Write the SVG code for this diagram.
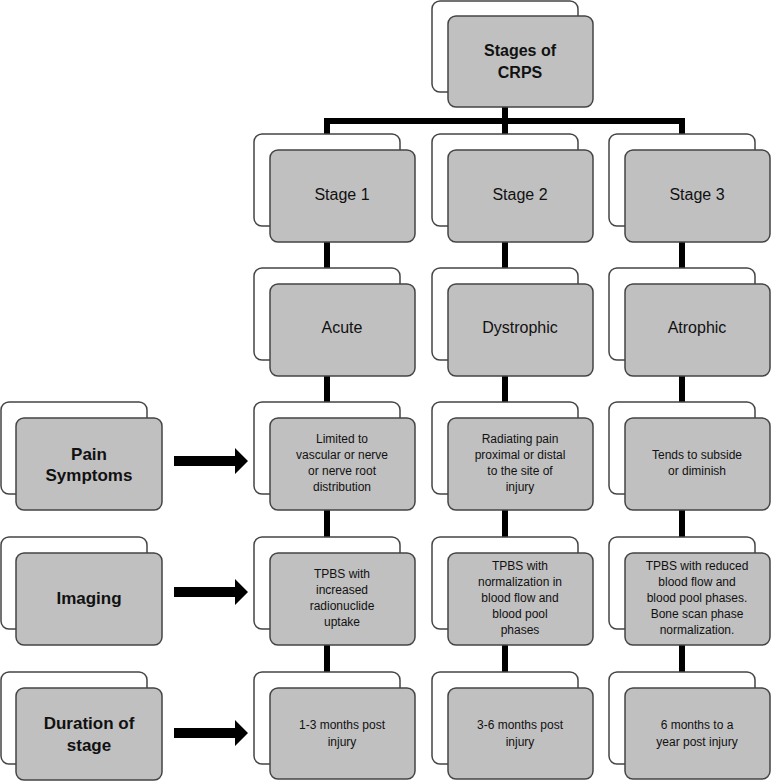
<svg xmlns="http://www.w3.org/2000/svg" width="771" height="781" viewBox="0 0 771 781">
<style>
.b{fill:#fff;stroke:#444;stroke-width:1.5}
.f{fill:#c0c0c0;stroke:#444;stroke-width:1.5}
text{font-family:"Liberation Sans",Arial,sans-serif;fill:#111;text-anchor:middle}
.h{font-size:16px;font-weight:bold}
.s{font-size:16px}
.t{font-size:12px}
.l{font-size:17px;font-weight:bold}
.c{stroke:#000;stroke-width:6;fill:none}
</style>
<rect width="771" height="781" fill="#fff"/>
<g id="connectors">
<path class="c" d="M505 107V121M326 121H684M327 118V150M505 118V150M682 118V150"/>
<path class="c" d="M327 242V284M505 242V284M682 242V284M327 376V418M505 376V418M682 376V418M327 510V553M505 510V553M682 510V553M327 645V688M505 645V688M682 645V688"/>
<path d="M174 456H235V448L248 461L235 474V466H174Z M174 587H235V579L248 592L235 605V597H174Z M174 728H235V720L248 733L235 746V738H174Z" fill="#000"/>
</g>
<g id="root"><rect class="b" x="432" y="1" width="146" height="91" rx="8"/><rect class="f" x="448" y="16" width="145" height="91" rx="8"/><text class="h" x="520" y="56">Stages of</text><text class="h" x="520" y="78">CRPS</text></g>
<g id="stage1"><rect class="b" x="254" y="134" width="146" height="92" rx="8"/><rect class="f" x="270" y="150" width="145" height="92" rx="8"/><text class="s" x="342" y="200">Stage 1</text></g>
<g id="stage2"><rect class="b" x="432" y="134" width="146" height="92" rx="8"/><rect class="f" x="448" y="150" width="145" height="92" rx="8"/><text class="s" x="520" y="200">Stage 2</text></g>
<g id="stage3"><rect class="b" x="609" y="134" width="146" height="92" rx="8"/><rect class="f" x="625" y="150" width="145" height="92" rx="8"/><text class="s" x="697" y="200">Stage 3</text></g>
<g id="acute"><rect class="b" x="254" y="268" width="146" height="92" rx="8"/><rect class="f" x="270" y="284" width="145" height="92" rx="8"/><text class="s" x="342" y="333">Acute</text></g>
<g id="dystrophic"><rect class="b" x="432" y="268" width="146" height="92" rx="8"/><rect class="f" x="448" y="284" width="145" height="92" rx="8"/><text class="s" x="520" y="333">Dystrophic</text></g>
<g id="atrophic"><rect class="b" x="609" y="268" width="146" height="92" rx="8"/><rect class="f" x="625" y="284" width="145" height="92" rx="8"/><text class="s" x="697" y="333">Atrophic</text></g>
<g id="pain"><rect class="b" x="1" y="402" width="146" height="92" rx="8"/><rect class="f" x="16" y="418" width="146" height="92" rx="8"/><text class="l" x="89" y="460">Pain</text><text class="l" x="89" y="481">Symptoms</text></g>
<g id="imaging"><rect class="b" x="1" y="537" width="146" height="92" rx="8"/><rect class="f" x="16" y="553" width="146" height="92" rx="8"/><text class="l" x="89" y="604">Imaging</text></g>
<g id="duration"><rect class="b" x="1" y="672" width="146" height="92" rx="8"/><rect class="f" x="16" y="688" width="146" height="92" rx="8"/><text class="l" x="89" y="729">Duration of</text><text class="l" x="89" y="751">stage</text></g>
<g id="pain1"><rect class="b" x="254" y="402" width="146" height="92" rx="8"/><rect class="f" x="270" y="418" width="145" height="92" rx="8"/><text class="t" x="342" y="443">Limited to</text><text class="t" x="342" y="459">vascular or nerve</text><text class="t" x="342" y="475">or nerve root</text><text class="t" x="342" y="491">distribution</text></g>
<g id="pain2"><rect class="b" x="432" y="402" width="146" height="92" rx="8"/><rect class="f" x="448" y="418" width="145" height="92" rx="8"/><text class="t" x="520" y="443">Radiating pain</text><text class="t" x="520" y="459">proximal or distal</text><text class="t" x="520" y="475">to the site of</text><text class="t" x="520" y="491">injury</text></g>
<g id="pain3"><rect class="b" x="609" y="402" width="146" height="92" rx="8"/><rect class="f" x="625" y="418" width="145" height="92" rx="8"/><text class="t" x="697" y="459">Tends to subside</text><text class="t" x="697" y="475">or diminish</text></g>
<g id="img1"><rect class="b" x="254" y="537" width="146" height="92" rx="8"/><rect class="f" x="270" y="553" width="145" height="92" rx="8"/><text class="t" x="342" y="578">TPBS with</text><text class="t" x="342" y="594">increased</text><text class="t" x="342" y="610">radionuclide</text><text class="t" x="342" y="626">uptake</text></g>
<g id="img2"><rect class="b" x="432" y="537" width="146" height="92" rx="8"/><rect class="f" x="448" y="553" width="145" height="92" rx="8"/><text class="t" x="520" y="570">TPBS with</text><text class="t" x="520" y="586">normalization in</text><text class="t" x="520" y="602">blood flow and</text><text class="t" x="520" y="618">blood pool</text><text class="t" x="520" y="634">phases</text></g>
<g id="img3"><rect class="b" x="609" y="537" width="146" height="92" rx="8"/><rect class="f" x="625" y="553" width="145" height="92" rx="8"/><text class="t" x="697" y="570">TPBS with reduced</text><text class="t" x="697" y="586">blood flow and</text><text class="t" x="697" y="602">blood pool phases.</text><text class="t" x="697" y="618">Bone scan phase</text><text class="t" x="697" y="634">normalization.</text></g>
<g id="dur1"><rect class="b" x="254" y="672" width="146" height="92" rx="8"/><rect class="f" x="270" y="688" width="145" height="91" rx="8"/><text class="t" x="342" y="729">1-3 months post</text><text class="t" x="342" y="746">injury</text></g>
<g id="dur2"><rect class="b" x="432" y="672" width="146" height="92" rx="8"/><rect class="f" x="448" y="688" width="145" height="91" rx="8"/><text class="t" x="520" y="729">3-6 months post</text><text class="t" x="520" y="746">injury</text></g>
<g id="dur3"><rect class="b" x="609" y="672" width="146" height="92" rx="8"/><rect class="f" x="625" y="688" width="145" height="91" rx="8"/><text class="t" x="697" y="729">6 months to a</text><text class="t" x="697" y="746">year post injury</text></g>
</svg>
